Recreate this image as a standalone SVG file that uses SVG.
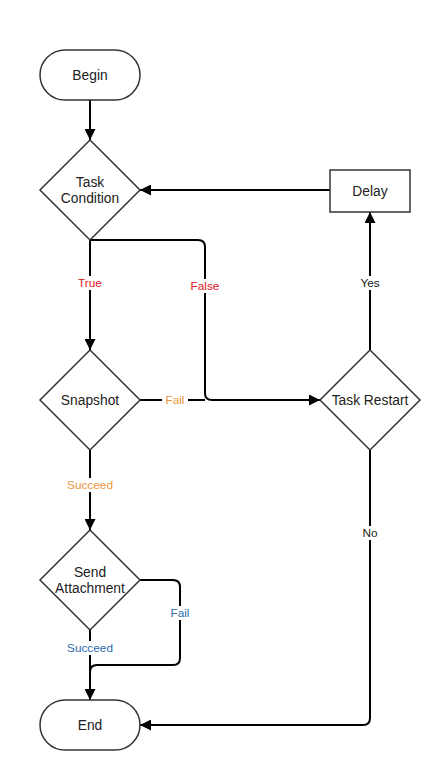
<svg xmlns="http://www.w3.org/2000/svg" width="446" height="775" viewBox="0 0 446 775">
<defs>
<marker id="arr" viewBox="0 0 10 10" refX="10" refY="5" markerWidth="5.5" markerHeight="5.5" orient="auto" markerUnits="strokeWidth">
<path d="M0,0 L10,5 L0,10 Z" fill="#000"/>
</marker>
<style>
.shape{fill:#fff;stroke:#333;stroke-width:1.5}
.edge{fill:none;stroke:#000;stroke-width:2;stroke-linejoin:round}
.t{font-family:"Liberation Sans",Arial,sans-serif;font-size:13.8px;fill:#222;text-anchor:middle;dominant-baseline:central}
.lbl{font-family:"Liberation Sans",Arial,sans-serif;font-size:11.8px;text-anchor:middle;dominant-baseline:central}
.bg{fill:#fff}
.red{fill:#E0141E}
.orange{fill:#EC9440}
.blue{fill:#2C6CB0}
.dark{fill:#222}
</style>
</defs>
<rect width="446" height="775" fill="#fff"/>
<g id="connectors">
<path class="edge" d="M90,100 V140" marker-end="url(#arr)"/>
<path class="edge" d="M90,240 V350" marker-end="url(#arr)"/>
<path class="edge" d="M90,240 H198 Q205,240 205,247 V393 Q205,400 212,400 H320" marker-end="url(#arr)"/>
<path class="edge" d="M140,400 H205"/>
<path class="edge" d="M90,450 V530" marker-end="url(#arr)"/>
<path class="edge" d="M90,630 V700" marker-end="url(#arr)"/>
<path class="edge" d="M140,580 H173 Q180,580 180,587 V658 Q180,665 173,665 H97 Q90,665 90,672 V700"/>
<path class="edge" d="M370,350 V212" marker-end="url(#arr)"/>
<path class="edge" d="M330,190 H140" marker-end="url(#arr)"/>
<path class="edge" d="M370,450 V718 Q370,725 363,725 H140" marker-end="url(#arr)"/>
<rect class="bg" x="76" y="276" width="28" height="14"/>
<text class="lbl red" x="90" y="283">True</text>
<rect class="bg" x="188" y="279" width="34" height="14"/>
<text class="lbl red" x="205" y="286">False</text>
<rect class="bg" x="162" y="393" width="26" height="14"/>
<text class="lbl orange" x="175" y="400">Fail</text>
<rect class="bg" x="65" y="478" width="50" height="14"/>
<text class="lbl orange" x="90" y="485">Succeed</text>
<rect class="bg" x="65" y="641" width="50" height="14"/>
<text class="lbl blue" x="90" y="648">Succeed</text>
<rect class="bg" x="168" y="606" width="24" height="14"/>
<text class="lbl blue" x="180" y="613">Fail</text>
<rect class="bg" x="358" y="276" width="24" height="14"/>
<text class="lbl dark" x="370" y="283">Yes</text>
<rect class="bg" x="360" y="526" width="20" height="14"/>
<text class="lbl dark" x="370" y="533">No</text>
</g>
<g id="begin">
<rect class="shape" x="40" y="50" width="100" height="50" rx="25" ry="25"/>
<text class="t" x="90" y="75">Begin</text>
</g>
<g id="task-condition">
<path class="shape" d="M90,140 L140,190 L90,240 L40,190 Z"/>
<text class="t" x="90" y="182">Task</text>
<text class="t" x="90" y="198">Condition</text>
</g>
<g id="delay">
<rect class="shape" x="330" y="170" width="80" height="42"/>
<text class="t" x="370" y="191">Delay</text>
</g>
<g id="snapshot">
<path class="shape" d="M90,350 L140,400 L90,450 L40,400 Z"/>
<text class="t" x="90" y="400">Snapshot</text>
</g>
<g id="task-restart">
<path class="shape" d="M370,350 L420,400 L370,450 L320,400 Z"/>
<text class="t" x="370" y="400">Task Restart</text>
</g>
<g id="send-attachment">
<path class="shape" d="M90,530 L140,580 L90,630 L40,580 Z"/>
<text class="t" x="90" y="572">Send</text>
<text class="t" x="90" y="588">Attachment</text>
</g>
<g id="end">
<rect class="shape" x="40" y="700" width="100" height="50" rx="25" ry="25"/>
<text class="t" x="90" y="725">End</text>
</g>
</svg>
